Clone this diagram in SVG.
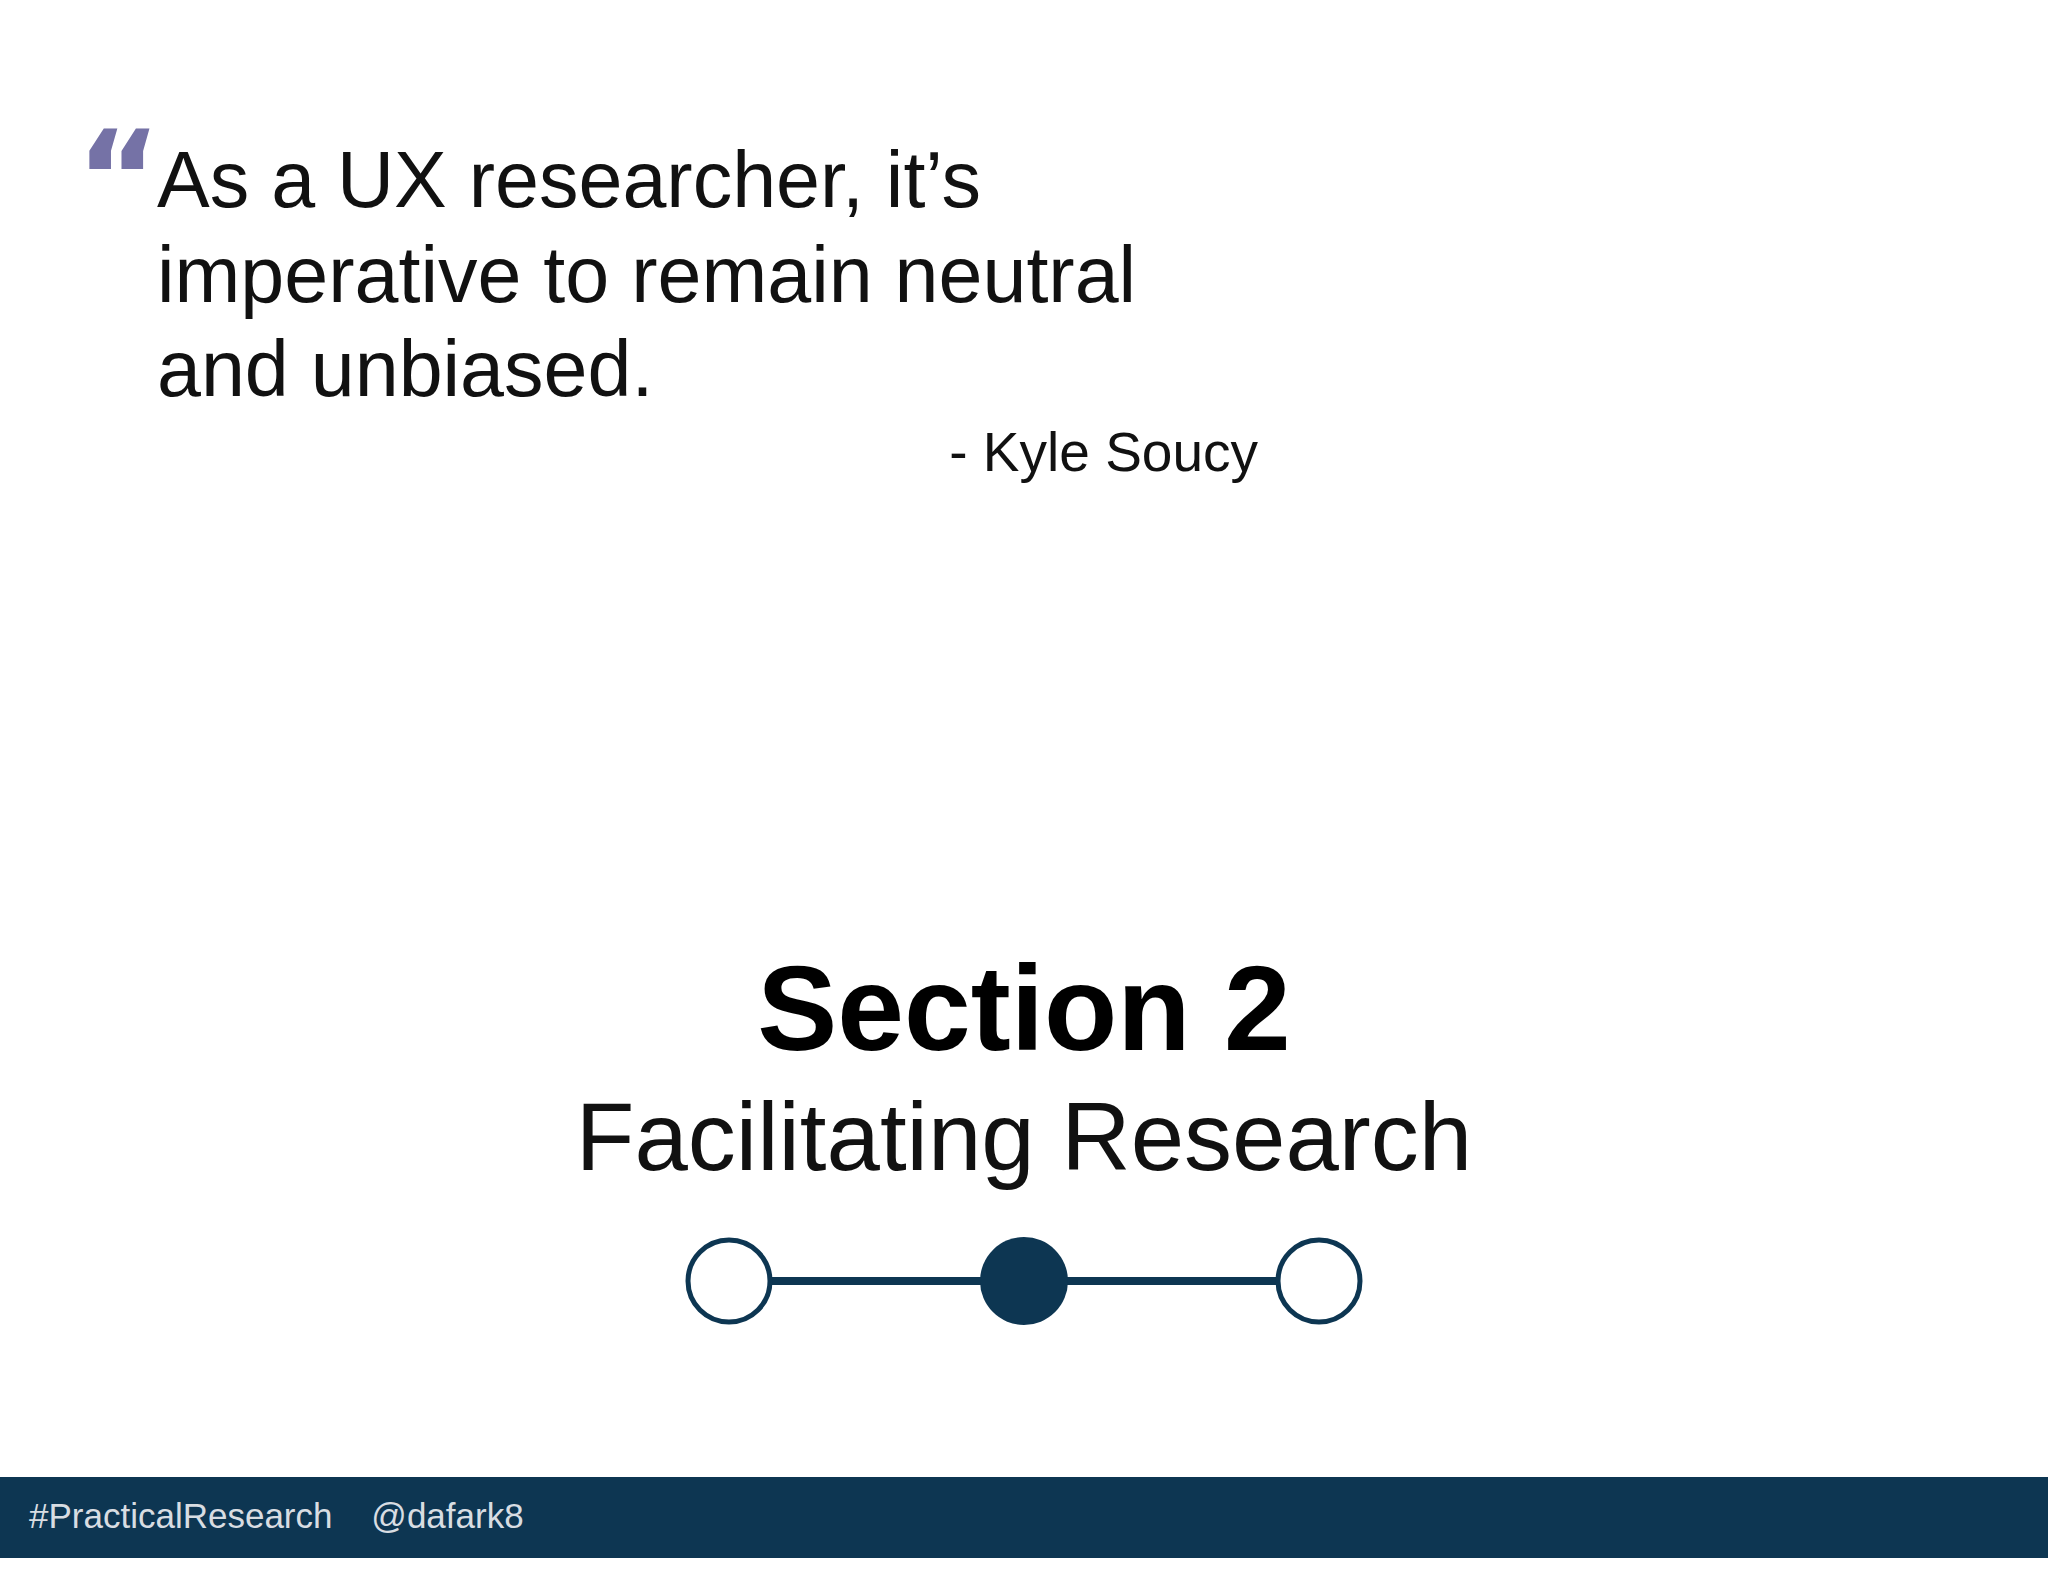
<svg xmlns="http://www.w3.org/2000/svg" width="2048" height="1582" viewBox="0 0 2048 1582">
<style>
.q{font-family:"Liberation Sans",Arial,sans-serif;font-size:79px;fill:#111}
.c{fill:#fff;stroke:#0d3652;stroke-width:5}
</style>
<rect width="2048" height="1582" fill="#fff"/>
<g id="quote">
<text x="76" y="223" font-family="DejaVu Sans,sans-serif" font-weight="bold" font-size="130" fill="#7572a6">“</text>
<text class="q" x="157" y="207">As a UX researcher, it’s</text>
<text class="q" x="157" y="302">imperative to remain neutral</text>
<text class="q" x="157" y="396">and unbiased.</text>
<text x="1258" y="471" text-anchor="end" font-family="Liberation Sans,Arial,sans-serif" font-size="55" fill="#111">- Kyle Soucy</text>
</g>
<g id="title">
<text x="1024" y="1050" text-anchor="middle" font-family="Liberation Sans,Arial,sans-serif" font-weight="bold" font-size="120" fill="#000">Section 2</text>
<text x="1024" y="1170" text-anchor="middle" font-family="Liberation Sans,Arial,sans-serif" font-size="96" fill="#111">Facilitating Research</text>
</g>
<g id="connectors">
<line x1="729" y1="1281" x2="1319" y2="1281" stroke="#0d3652" stroke-width="8"/>
</g>
<g id="step1"><circle class="c" cx="729" cy="1281" r="41"/></g>
<g id="step2"><circle cx="1024" cy="1281" r="44" fill="#0d3652"/></g>
<g id="step3"><circle class="c" cx="1319" cy="1281" r="41"/></g>
<g id="footer">
<rect x="0" y="1477" width="2048" height="81" fill="#0d3652"/>
<text x="29" y="1528" font-family="Liberation Sans,Arial,sans-serif" font-size="35" fill="#d8dde2" xml:space="preserve">#PracticalResearch    @dafark8</text>
</g>
</svg>
